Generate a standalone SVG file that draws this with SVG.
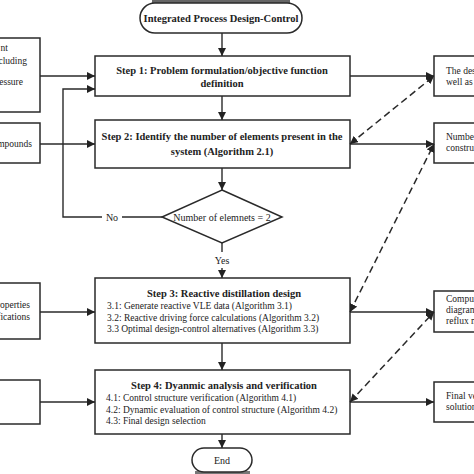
<svg xmlns="http://www.w3.org/2000/svg" width="474" height="474" viewBox="0 0 474 474">
<defs>
<style>
.box{fill:#fff;stroke:#2a2a2a;stroke-width:1.5}
.ln{fill:none;stroke:#2a2a2a;stroke-width:1.4}
.dash{fill:none;stroke:#2a2a2a;stroke-width:1.5;stroke-dasharray:7 4}
.t{font-family:"Liberation Serif","Times New Roman",serif;fill:#222}
.b{font-weight:bold;font-size:10.5px}
.r{font-size:9.5px}
.s{font-size:9.5px}
</style>
<marker id="ah" viewBox="0 0 10 10" refX="10" refY="5" markerWidth="8" markerHeight="8" markerUnits="userSpaceOnUse" orient="auto-start-reverse">
<path d="M0,0 L10,5 L0,10 z" fill="#222"/>
</marker>
</defs>
<rect x="0" y="0" width="474" height="474" fill="#fff"/>

<g id="start">
<rect x="152" y="0" width="138" height="3" fill="#666"/>
<rect class="box" x="140" y="3" width="162" height="30" rx="15"/>
<text class="t b" x="221" y="22" text-anchor="middle">Integrated Process Design-Control</text>
</g>

<g id="step1">
<rect class="box" x="95" y="56" width="255" height="40"/>
<text class="t b" x="222" y="74" text-anchor="middle">Step 1: Problem formulation/objective function</text>
<text class="t b" x="222" y="87" text-anchor="middle">definition</text>
</g>

<g id="step2">
<rect class="box" x="95" y="120" width="255" height="48"/>
<text class="t b" x="222" y="140" text-anchor="middle">Step 2: Identify the number of elements present in the</text>
<text class="t b" x="222" y="155" text-anchor="middle">system (Algorithm 2.1)</text>
</g>

<g id="decision">
<polygon class="box" points="222,190 282,217 222,243 162,217"/>
<text class="t" font-size="10px" x="222" y="220.5" text-anchor="middle">Number of elemnets = 2</text>
</g>

<g id="step3">
<rect class="box" x="95" y="278" width="255" height="65"/>
<text class="t b" x="224" y="297" text-anchor="middle">Step 3: Reactive distillation design</text>
<text class="t r" x="107" y="309">3.1: Generate reactive VLE data (Algorithm 3.1)</text>
<text class="t r" x="107" y="320.5">3.2: Reactive driving force calculations (Algorithm 3.2)</text>
<text class="t r" x="107" y="332">3.3 Optimal design-control alternatives (Algorithm 3.3)</text>
</g>

<g id="step4">
<rect class="box" x="95" y="370" width="255" height="64"/>
<text class="t b" x="224" y="389" text-anchor="middle">Step 4: Dyanmic analysis and verification</text>
<text class="t r" x="106" y="401">4.1: Control structure verification (Algorithm 4.1)</text>
<text class="t r" x="106" y="412.5">4.2: Dynamic evaluation of control structure (Algorithm 4.2)</text>
<text class="t r" x="106" y="424">4.3: Final design selection</text>
</g>

<g id="end">
<rect x="195" y="471" width="55" height="3" fill="#777"/>
<rect class="box" x="192" y="448" width="60" height="24" rx="12"/>
<text class="t" font-size="10px" x="222" y="464" text-anchor="middle">End</text>
</g>

<g id="left1">
<rect class="box" x="-10" y="38" width="50" height="74"/>
<text class="t r" x="8" y="51" text-anchor="end">nt</text>
<text class="t r" x="27" y="64" text-anchor="end">cluding</text>
<text class="t r" x="23" y="85" text-anchor="end">essure</text>
</g>

<g id="left2">
<rect class="box" x="-10" y="123" width="50" height="40"/>
<text class="t r" x="32" y="147" text-anchor="end">mpounds</text>
</g>

<g id="left3">
<rect class="box" x="-10" y="283" width="50" height="56"/>
<text class="t r" x="30" y="308" text-anchor="end">roperties</text>
<text class="t r" x="30" y="320" text-anchor="end">fications</text>
</g>

<g id="left4">
<rect class="box" x="-10" y="380" width="50" height="44"/>
</g>

<g id="right1">
<rect class="box" x="434" y="56" width="50" height="40"/>
<text class="t s" x="446" y="74">The des</text>
<text class="t s" x="446" y="85">well as</text>
</g>

<g id="right2">
<rect class="box" x="434" y="123" width="50" height="40"/>
<text class="t s" x="446" y="140">Numbe</text>
<text class="t s" x="446" y="151">constru</text>
</g>

<g id="right3">
<rect class="box" x="434" y="291" width="50" height="41"/>
<text class="t s" x="446" y="302">Compu</text>
<text class="t s" x="446" y="313">diagram</text>
<text class="t s" x="446" y="324">reflux m</text>
</g>

<g id="right4">
<rect class="box" x="434" y="382" width="50" height="40"/>
<text class="t s" x="446" y="399">Final ve</text>
<text class="t s" x="446" y="410">solution</text>
</g>

<g id="connectors">
<line class="ln" x1="222" y1="33" x2="222" y2="56" marker-end="url(#ah)"/>
<line class="ln" x1="222" y1="96" x2="222" y2="120" marker-end="url(#ah)"/>
<line class="ln" x1="222" y1="168" x2="222" y2="190" marker-end="url(#ah)"/>
<line class="ln" x1="222" y1="243" x2="222" y2="252"/>
<line class="ln" x1="222" y1="268" x2="222" y2="278" marker-end="url(#ah)"/>
<text class="t" font-size="10px" x="222" y="264" text-anchor="middle">Yes</text>
<line class="ln" x1="222" y1="343" x2="222" y2="370" marker-end="url(#ah)"/>
<line class="ln" x1="222" y1="434" x2="222" y2="448" marker-end="url(#ah)"/>
<polyline class="ln" points="162,217 63,217 63,89 95,89" marker-end="url(#ah)"/>
<rect x="102" y="210" width="20" height="13" fill="#fff"/>
<text class="t" font-size="10px" x="112" y="220.5" text-anchor="middle">No</text>
<line class="ln" x1="40" y1="76" x2="95" y2="76" marker-end="url(#ah)"/>
<line class="ln" x1="40" y1="144" x2="95" y2="144" marker-end="url(#ah)"/>
<line class="ln" x1="40" y1="312" x2="95" y2="312" marker-end="url(#ah)"/>
<line class="ln" x1="40" y1="402" x2="95" y2="402" marker-end="url(#ah)"/>
<line class="ln" x1="350" y1="76" x2="434" y2="76" marker-end="url(#ah)"/>
<line class="ln" x1="350" y1="144" x2="434" y2="144" marker-end="url(#ah)"/>
<line class="ln" x1="350" y1="312" x2="434" y2="312" marker-end="url(#ah)"/>
<line class="ln" x1="350" y1="402" x2="434" y2="402" marker-end="url(#ah)"/>
<line class="dash" x1="350" y1="144" x2="434" y2="76" marker-start="url(#ah)" marker-end="url(#ah)"/>
<line class="dash" x1="350" y1="312" x2="434" y2="144" marker-start="url(#ah)" marker-end="url(#ah)"/>
<line class="dash" x1="350" y1="402" x2="434" y2="312" marker-start="url(#ah)" marker-end="url(#ah)"/>
</g>
</svg>
